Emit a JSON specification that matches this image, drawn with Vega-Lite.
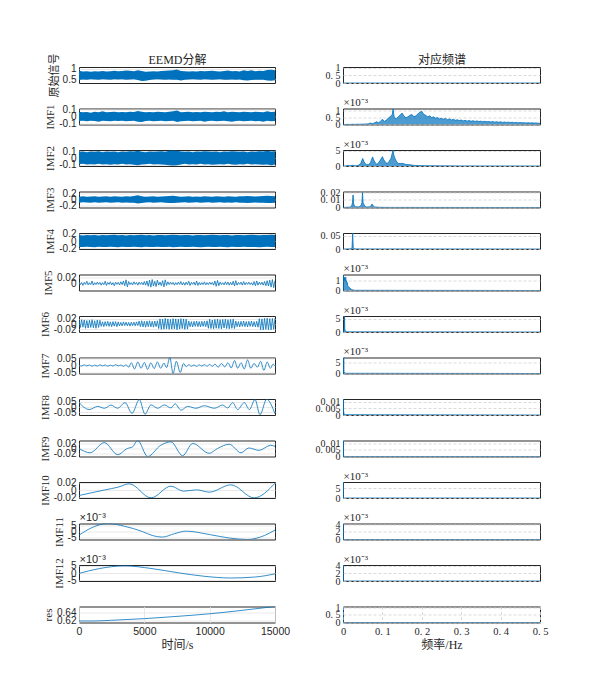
{
"$schema": "https://vega.github.io/schema/vega-lite/v6.json",
"background": "white",
"padding": {"left": 38, "top": 52, "right": 5, "bottom": 5},
"columns": 2,
"spacing": {"row": 25.5, "column": 67},
"bounds": "flush",
"align": "all",
"config": {
  "view": {"stroke": "#262626", "strokeWidth": 1},
  "font": "Liberation Sans",
  "axis": {"domain": false, "ticks": false, "labelColor": "#262626", "titleColor": "#262626", "titleFontWeight": "normal", "labelPadding": 3, "labelOverlap": false, "labelBound": false, "labelFlush": false, "gridWidth": 0.8},
  "axisY": {"labelFont": "Liberation Sans", "labelFontSize": 10, "labelExpr": "'' + datum.value", "titleFont": "Liberation Serif, Noto Sans CJK SC", "titleFontSize": 11, "titlePadding": 3, "grid": true, "gridColor": "#e3e3e3"},
  "axisX": {"labelFontSize": 10.5, "titleFontSize": 12, "titleFont": "Liberation Serif, Noto Sans CJK SC", "titlePadding": 2, "grid": true, "gridColor": "#e3e3e3", "labelPadding": 4}
},
"datasets": {
  "sig": [{"t":0,"hi":0.9,"lo":0.46},{"t":300,"hi":0.87,"lo":0.49},{"t":600,"hi":0.88,"lo":0.48},{"t":900,"hi":0.86,"lo":0.5},{"t":1200,"hi":0.88,"lo":0.49},{"t":1500,"hi":0.87,"lo":0.48},{"t":1800,"hi":0.89,"lo":0.5},{"t":2100,"hi":0.87,"lo":0.49},{"t":2400,"hi":0.88,"lo":0.48},{"t":2700,"hi":0.9,"lo":0.5},{"t":3000,"hi":0.88,"lo":0.49},{"t":3300,"hi":0.89,"lo":0.5},{"t":3600,"hi":0.91,"lo":0.48},{"t":3900,"hi":0.9,"lo":0.49},{"t":4200,"hi":0.88,"lo":0.5},{"t":4500,"hi":0.93,"lo":0.46},{"t":4800,"hi":0.89,"lo":0.42},{"t":5100,"hi":0.86,"lo":0.43},{"t":5400,"hi":0.87,"lo":0.46},{"t":5700,"hi":0.88,"lo":0.49},{"t":6000,"hi":0.87,"lo":0.5},{"t":6300,"hi":0.89,"lo":0.49},{"t":6600,"hi":0.9,"lo":0.48},{"t":6900,"hi":0.91,"lo":0.49},{"t":7200,"hi":0.92,"lo":0.47},{"t":7500,"hi":0.96,"lo":0.48},{"t":7800,"hi":0.89,"lo":0.44},{"t":8100,"hi":0.88,"lo":0.48},{"t":8400,"hi":0.87,"lo":0.49},{"t":8700,"hi":0.88,"lo":0.5},{"t":9000,"hi":0.87,"lo":0.49},{"t":9300,"hi":0.89,"lo":0.48},{"t":9600,"hi":0.88,"lo":0.5},{"t":9900,"hi":0.89,"lo":0.49},{"t":10200,"hi":0.9,"lo":0.48},{"t":10500,"hi":0.88,"lo":0.49},{"t":10800,"hi":0.87,"lo":0.5},{"t":11100,"hi":0.89,"lo":0.48},{"t":11400,"hi":0.91,"lo":0.47},{"t":11700,"hi":0.88,"lo":0.49},{"t":12000,"hi":0.89,"lo":0.48},{"t":12300,"hi":0.87,"lo":0.49},{"t":12600,"hi":0.92,"lo":0.45},{"t":12900,"hi":0.89,"lo":0.44},{"t":13200,"hi":0.93,"lo":0.46},{"t":13500,"hi":0.88,"lo":0.48},{"t":13800,"hi":0.9,"lo":0.47},{"t":14100,"hi":0.89,"lo":0.48},{"t":14400,"hi":0.94,"lo":0.44},{"t":14700,"hi":0.95,"lo":0.43},{"t":15000,"hi":0.93,"lo":0.45}],
  "imf1": [{"t":0,"hi":0.07,"lo":-0.065},{"t":300,"hi":0.06,"lo":-0.06},{"t":600,"hi":0.065,"lo":-0.07},{"t":900,"hi":0.055,"lo":-0.06},{"t":1200,"hi":0.07,"lo":-0.065},{"t":1500,"hi":0.06,"lo":-0.075},{"t":1800,"hi":0.075,"lo":-0.06},{"t":2100,"hi":0.06,"lo":-0.065},{"t":2400,"hi":0.065,"lo":-0.07},{"t":2700,"hi":0.07,"lo":-0.06},{"t":3000,"hi":0.06,"lo":-0.065},{"t":3300,"hi":0.065,"lo":-0.06},{"t":3600,"hi":0.06,"lo":-0.07},{"t":3900,"hi":0.07,"lo":-0.065},{"t":4200,"hi":0.065,"lo":-0.06},{"t":4500,"hi":0.08,"lo":-0.075},{"t":4800,"hi":0.07,"lo":-0.08},{"t":5100,"hi":0.06,"lo":-0.065},{"t":5400,"hi":0.065,"lo":-0.06},{"t":5700,"hi":0.06,"lo":-0.07},{"t":6000,"hi":0.07,"lo":-0.065},{"t":6300,"hi":0.065,"lo":-0.06},{"t":6600,"hi":0.06,"lo":-0.07},{"t":6900,"hi":0.07,"lo":-0.065},{"t":7200,"hi":0.075,"lo":-0.06},{"t":7500,"hi":0.085,"lo":-0.08},{"t":7800,"hi":0.06,"lo":-0.07},{"t":8100,"hi":0.065,"lo":-0.065},{"t":8400,"hi":0.07,"lo":-0.06},{"t":8700,"hi":0.06,"lo":-0.07},{"t":9000,"hi":0.065,"lo":-0.065},{"t":9300,"hi":0.06,"lo":-0.06},{"t":9600,"hi":0.07,"lo":-0.075},{"t":9900,"hi":0.065,"lo":-0.065},{"t":10200,"hi":0.06,"lo":-0.06},{"t":10500,"hi":0.07,"lo":-0.07},{"t":10800,"hi":0.065,"lo":-0.065},{"t":11100,"hi":0.075,"lo":-0.06},{"t":11400,"hi":0.06,"lo":-0.07},{"t":11700,"hi":0.07,"lo":-0.075},{"t":12000,"hi":0.065,"lo":-0.065},{"t":12300,"hi":0.06,"lo":-0.06},{"t":12600,"hi":0.07,"lo":-0.07},{"t":12900,"hi":0.065,"lo":-0.065},{"t":13200,"hi":0.06,"lo":-0.06},{"t":13500,"hi":0.07,"lo":-0.07},{"t":13800,"hi":0.065,"lo":-0.065},{"t":14100,"hi":0.06,"lo":-0.075},{"t":14400,"hi":0.075,"lo":-0.06},{"t":14700,"hi":0.065,"lo":-0.07},{"t":15000,"hi":0.07,"lo":-0.065}],
  "imf2": [{"t":0,"hi":0.095,"lo":-0.095},{"t":300,"hi":0.1,"lo":-0.09},{"t":600,"hi":0.09,"lo":-0.1},{"t":900,"hi":0.1,"lo":-0.095},{"t":1200,"hi":0.095,"lo":-0.1},{"t":1500,"hi":0.105,"lo":-0.09},{"t":1800,"hi":0.09,"lo":-0.1},{"t":2100,"hi":0.1,"lo":-0.095},{"t":2400,"hi":0.095,"lo":-0.105},{"t":2700,"hi":0.1,"lo":-0.095},{"t":3000,"hi":0.09,"lo":-0.1},{"t":3300,"hi":0.1,"lo":-0.09},{"t":3600,"hi":0.095,"lo":-0.1},{"t":3900,"hi":0.105,"lo":-0.095},{"t":4200,"hi":0.1,"lo":-0.105},{"t":4500,"hi":0.11,"lo":-0.11},{"t":4800,"hi":0.095,"lo":-0.1},{"t":5100,"hi":0.09,"lo":-0.095},{"t":5400,"hi":0.1,"lo":-0.09},{"t":5700,"hi":0.095,"lo":-0.1},{"t":6000,"hi":0.1,"lo":-0.095},{"t":6300,"hi":0.105,"lo":-0.1},{"t":6600,"hi":0.095,"lo":-0.105},{"t":6900,"hi":0.11,"lo":-0.11},{"t":7200,"hi":0.115,"lo":-0.115},{"t":7500,"hi":0.11,"lo":-0.11},{"t":7800,"hi":0.1,"lo":-0.1},{"t":8100,"hi":0.095,"lo":-0.09},{"t":8400,"hi":0.1,"lo":-0.1},{"t":8700,"hi":0.09,"lo":-0.095},{"t":9000,"hi":0.1,"lo":-0.1},{"t":9300,"hi":0.095,"lo":-0.09},{"t":9600,"hi":0.105,"lo":-0.1},{"t":9900,"hi":0.1,"lo":-0.095},{"t":10200,"hi":0.095,"lo":-0.105},{"t":10500,"hi":0.1,"lo":-0.1},{"t":10800,"hi":0.09,"lo":-0.095},{"t":11100,"hi":0.1,"lo":-0.1},{"t":11400,"hi":0.095,"lo":-0.09},{"t":11700,"hi":0.105,"lo":-0.1},{"t":12000,"hi":0.1,"lo":-0.105},{"t":12300,"hi":0.095,"lo":-0.095},{"t":12600,"hi":0.1,"lo":-0.1},{"t":12900,"hi":0.09,"lo":-0.09},{"t":13200,"hi":0.1,"lo":-0.1},{"t":13500,"hi":0.095,"lo":-0.095},{"t":13800,"hi":0.105,"lo":-0.1},{"t":14100,"hi":0.1,"lo":-0.105},{"t":14400,"hi":0.11,"lo":-0.1},{"t":14700,"hi":0.1,"lo":-0.11},{"t":15000,"hi":0.105,"lo":-0.1}],
  "imf3": [{"t":0,"hi":0.1,"lo":-0.11},{"t":300,"hi":0.11,"lo":-0.1},{"t":600,"hi":0.1,"lo":-0.105},{"t":900,"hi":0.105,"lo":-0.11},{"t":1200,"hi":0.11,"lo":-0.1},{"t":1500,"hi":0.1,"lo":-0.11},{"t":1800,"hi":0.105,"lo":-0.105},{"t":2100,"hi":0.115,"lo":-0.1},{"t":2400,"hi":0.1,"lo":-0.11},{"t":2700,"hi":0.11,"lo":-0.105},{"t":3000,"hi":0.105,"lo":-0.1},{"t":3300,"hi":0.1,"lo":-0.11},{"t":3600,"hi":0.11,"lo":-0.105},{"t":3900,"hi":0.105,"lo":-0.115},{"t":4200,"hi":0.12,"lo":-0.11},{"t":4500,"hi":0.15,"lo":-0.14},{"t":4800,"hi":0.11,"lo":-0.12},{"t":5100,"hi":0.1,"lo":-0.105},{"t":5400,"hi":0.105,"lo":-0.1},{"t":5700,"hi":0.11,"lo":-0.11},{"t":6000,"hi":0.1,"lo":-0.105},{"t":6300,"hi":0.105,"lo":-0.1},{"t":6600,"hi":0.11,"lo":-0.11},{"t":6900,"hi":0.12,"lo":-0.12},{"t":7200,"hi":0.13,"lo":-0.125},{"t":7500,"hi":0.11,"lo":-0.11},{"t":7800,"hi":0.1,"lo":-0.105},{"t":8100,"hi":0.105,"lo":-0.1},{"t":8400,"hi":0.11,"lo":-0.11},{"t":8700,"hi":0.1,"lo":-0.105},{"t":9000,"hi":0.105,"lo":-0.1},{"t":9300,"hi":0.1,"lo":-0.11},{"t":9600,"hi":0.11,"lo":-0.105},{"t":9900,"hi":0.105,"lo":-0.1},{"t":10200,"hi":0.1,"lo":-0.11},{"t":10500,"hi":0.11,"lo":-0.105},{"t":10800,"hi":0.105,"lo":-0.1},{"t":11100,"hi":0.1,"lo":-0.11},{"t":11400,"hi":0.11,"lo":-0.105},{"t":11700,"hi":0.105,"lo":-0.11},{"t":12000,"hi":0.1,"lo":-0.1},{"t":12300,"hi":0.11,"lo":-0.11},{"t":12600,"hi":0.115,"lo":-0.115},{"t":12900,"hi":0.12,"lo":-0.12},{"t":13200,"hi":0.11,"lo":-0.11},{"t":13500,"hi":0.105,"lo":-0.105},{"t":13800,"hi":0.11,"lo":-0.11},{"t":14100,"hi":0.12,"lo":-0.115},{"t":14400,"hi":0.13,"lo":-0.12},{"t":14700,"hi":0.12,"lo":-0.125},{"t":15000,"hi":0.115,"lo":-0.11}],
  "imf4": [{"t":0,"hi":0.16,"lo":-0.16},{"t":300,"hi":0.15,"lo":-0.165},{"t":600,"hi":0.165,"lo":-0.155},{"t":900,"hi":0.155,"lo":-0.16},{"t":1200,"hi":0.16,"lo":-0.17},{"t":1500,"hi":0.15,"lo":-0.155},{"t":1800,"hi":0.165,"lo":-0.16},{"t":2100,"hi":0.155,"lo":-0.165},{"t":2400,"hi":0.16,"lo":-0.155},{"t":2700,"hi":0.17,"lo":-0.16},{"t":3000,"hi":0.155,"lo":-0.17},{"t":3300,"hi":0.16,"lo":-0.155},{"t":3600,"hi":0.15,"lo":-0.16},{"t":3900,"hi":0.165,"lo":-0.165},{"t":4200,"hi":0.155,"lo":-0.155},{"t":4500,"hi":0.16,"lo":-0.16},{"t":4800,"hi":0.17,"lo":-0.17},{"t":5100,"hi":0.155,"lo":-0.155},{"t":5400,"hi":0.16,"lo":-0.165},{"t":5700,"hi":0.15,"lo":-0.16},{"t":6000,"hi":0.165,"lo":-0.155},{"t":6300,"hi":0.16,"lo":-0.165},{"t":6600,"hi":0.155,"lo":-0.16},{"t":6900,"hi":0.16,"lo":-0.155},{"t":7200,"hi":0.17,"lo":-0.17},{"t":7500,"hi":0.16,"lo":-0.165},{"t":7800,"hi":0.155,"lo":-0.155},{"t":8100,"hi":0.165,"lo":-0.16},{"t":8400,"hi":0.16,"lo":-0.165},{"t":8700,"hi":0.15,"lo":-0.155},{"t":9000,"hi":0.16,"lo":-0.16},{"t":9300,"hi":0.165,"lo":-0.17},{"t":9600,"hi":0.155,"lo":-0.16},{"t":9900,"hi":0.16,"lo":-0.155},{"t":10200,"hi":0.17,"lo":-0.165},{"t":10500,"hi":0.16,"lo":-0.16},{"t":10800,"hi":0.155,"lo":-0.155},{"t":11100,"hi":0.165,"lo":-0.16},{"t":11400,"hi":0.16,"lo":-0.17},{"t":11700,"hi":0.15,"lo":-0.155},{"t":12000,"hi":0.16,"lo":-0.165},{"t":12300,"hi":0.165,"lo":-0.16},{"t":12600,"hi":0.155,"lo":-0.155},{"t":12900,"hi":0.16,"lo":-0.16},{"t":13200,"hi":0.17,"lo":-0.165},{"t":13500,"hi":0.16,"lo":-0.16},{"t":13800,"hi":0.155,"lo":-0.17},{"t":14100,"hi":0.165,"lo":-0.16},{"t":14400,"hi":0.16,"lo":-0.155},{"t":14700,"hi":0.17,"lo":-0.165},{"t":15000,"hi":0.16,"lo":-0.16}],
  "imf5": [{"t":0,"v":0.006},{"t":100,"v":-0.004},{"t":200,"v":0.003},{"t":300,"v":-0.007},{"t":400,"v":0.004},{"t":500,"v":-0.003},{"t":600,"v":0.008},{"t":700,"v":-0.005},{"t":800,"v":0.003},{"t":900,"v":-0.004},{"t":1000,"v":0.009},{"t":1100,"v":-0.006},{"t":1200,"v":0.003},{"t":1300,"v":-0.004},{"t":1400,"v":0.005},{"t":1500,"v":-0.003},{"t":1600,"v":0.004},{"t":1700,"v":-0.006},{"t":1800,"v":0.003},{"t":1900,"v":-0.004},{"t":2000,"v":0.008},{"t":2100,"v":-0.007},{"t":2200,"v":0.004},{"t":2300,"v":-0.003},{"t":2400,"v":0.006},{"t":2500,"v":-0.005},{"t":2600,"v":0.003},{"t":2700,"v":-0.008},{"t":2800,"v":0.005},{"t":2900,"v":-0.003},{"t":3000,"v":0.004},{"t":3100,"v":-0.005},{"t":3200,"v":0.006},{"t":3300,"v":-0.004},{"t":3400,"v":0.009},{"t":3500,"v":-0.008},{"t":3600,"v":0.013},{"t":3700,"v":-0.012},{"t":3800,"v":0.007},{"t":3900,"v":-0.004},{"t":4000,"v":0.003},{"t":4100,"v":-0.005},{"t":4200,"v":0.006},{"t":4300,"v":-0.003},{"t":4400,"v":0.004},{"t":4500,"v":-0.006},{"t":4600,"v":0.005},{"t":4700,"v":-0.003},{"t":4800,"v":0.004},{"t":4900,"v":-0.005},{"t":5000,"v":0.007},{"t":5100,"v":-0.006},{"t":5200,"v":0.009},{"t":5300,"v":-0.01},{"t":5400,"v":0.012},{"t":5500,"v":-0.013},{"t":5600,"v":0.014},{"t":5700,"v":-0.009},{"t":5800,"v":0.008},{"t":5900,"v":-0.011},{"t":6000,"v":0.012},{"t":6100,"v":-0.006},{"t":6200,"v":0.005},{"t":6300,"v":-0.008},{"t":6400,"v":0.01},{"t":6500,"v":-0.012},{"t":6600,"v":0.013},{"t":6700,"v":-0.007},{"t":6800,"v":0.006},{"t":6900,"v":-0.004},{"t":7000,"v":0.005},{"t":7100,"v":-0.003},{"t":7200,"v":0.004},{"t":7300,"v":-0.006},{"t":7400,"v":0.003},{"t":7500,"v":-0.004},{"t":7600,"v":0.005},{"t":7700,"v":-0.003},{"t":7800,"v":0.007},{"t":7900,"v":-0.005},{"t":8000,"v":0.004},{"t":8100,"v":-0.006},{"t":8200,"v":0.005},{"t":8300,"v":-0.004},{"t":8400,"v":0.008},{"t":8500,"v":-0.007},{"t":8600,"v":0.004},{"t":8700,"v":-0.003},{"t":8800,"v":0.005},{"t":8900,"v":-0.006},{"t":9000,"v":0.009},{"t":9100,"v":-0.007},{"t":9200,"v":0.004},{"t":9300,"v":-0.005},{"t":9400,"v":0.003},{"t":9500,"v":-0.004},{"t":9600,"v":0.006},{"t":9700,"v":-0.005},{"t":9800,"v":0.003},{"t":9900,"v":-0.004},{"t":10000,"v":0.005},{"t":10100,"v":-0.003},{"t":10200,"v":0.004},{"t":10300,"v":-0.006},{"t":10400,"v":0.009},{"t":10500,"v":-0.01},{"t":10600,"v":0.011},{"t":10700,"v":-0.008},{"t":10800,"v":0.005},{"t":10900,"v":-0.004},{"t":11000,"v":0.003},{"t":11100,"v":-0.005},{"t":11200,"v":0.006},{"t":11300,"v":-0.004},{"t":11400,"v":0.005},{"t":11500,"v":-0.006},{"t":11600,"v":0.004},{"t":11700,"v":-0.005},{"t":11800,"v":0.008},{"t":11900,"v":-0.009},{"t":12000,"v":0.01},{"t":12100,"v":-0.006},{"t":12200,"v":0.004},{"t":12300,"v":-0.003},{"t":12400,"v":0.005},{"t":12500,"v":-0.006},{"t":12600,"v":0.007},{"t":12700,"v":-0.005},{"t":12800,"v":0.004},{"t":12900,"v":-0.003},{"t":13000,"v":0.005},{"t":13100,"v":-0.004},{"t":13200,"v":0.003},{"t":13300,"v":-0.006},{"t":13400,"v":0.007},{"t":13500,"v":-0.008},{"t":13600,"v":0.009},{"t":13700,"v":-0.006},{"t":13800,"v":0.005},{"t":13900,"v":-0.004},{"t":14000,"v":0.005},{"t":14100,"v":-0.006},{"t":14200,"v":0.007},{"t":14300,"v":-0.008},{"t":14400,"v":0.01},{"t":14500,"v":-0.009},{"t":14600,"v":0.012},{"t":14700,"v":-0.013},{"t":14800,"v":0.014},{"t":14900,"v":-0.015},{"t":15000,"v":0.01}],
  "imf6": [{"t":0,"v":0.014},{"t":100,"v":-0.013},{"t":200,"v":0.016},{"t":300,"v":-0.012},{"t":400,"v":0.015},{"t":500,"v":-0.016},{"t":600,"v":0.013},{"t":700,"v":-0.015},{"t":800,"v":0.014},{"t":900,"v":-0.013},{"t":1000,"v":0.016},{"t":1100,"v":-0.014},{"t":1200,"v":0.012},{"t":1300,"v":-0.016},{"t":1400,"v":0.015},{"t":1500,"v":-0.013},{"t":1600,"v":0.014},{"t":1700,"v":-0.009},{"t":1800,"v":0.008},{"t":1900,"v":-0.01},{"t":2000,"v":0.009},{"t":2100,"v":-0.008},{"t":2200,"v":0.01},{"t":2300,"v":-0.009},{"t":2400,"v":0.008},{"t":2500,"v":-0.01},{"t":2600,"v":0.009},{"t":2700,"v":-0.008},{"t":2800,"v":0.009},{"t":2900,"v":-0.01},{"t":3000,"v":0.008},{"t":3100,"v":-0.007},{"t":3200,"v":0.006},{"t":3300,"v":-0.007},{"t":3400,"v":0.008},{"t":3500,"v":-0.006},{"t":3600,"v":0.007},{"t":3700,"v":-0.007},{"t":3800,"v":0.006},{"t":3900,"v":-0.008},{"t":4000,"v":0.007},{"t":4100,"v":-0.006},{"t":4200,"v":0.007},{"t":4300,"v":-0.007},{"t":4400,"v":0.008},{"t":4500,"v":-0.006},{"t":4600,"v":0.011},{"t":4700,"v":-0.01},{"t":4800,"v":0.012},{"t":4900,"v":-0.011},{"t":5000,"v":0.01},{"t":5100,"v":-0.012},{"t":5200,"v":0.011},{"t":5300,"v":-0.01},{"t":5400,"v":0.012},{"t":5500,"v":-0.011},{"t":5600,"v":0.01},{"t":5700,"v":-0.012},{"t":5800,"v":0.011},{"t":5900,"v":-0.01},{"t":6000,"v":0.012},{"t":6100,"v":-0.017},{"t":6200,"v":0.019},{"t":6300,"v":-0.02},{"t":6400,"v":0.018},{"t":6500,"v":-0.019},{"t":6600,"v":0.021},{"t":6700,"v":-0.018},{"t":6800,"v":0.019},{"t":6900,"v":-0.02},{"t":7000,"v":0.017},{"t":7100,"v":-0.019},{"t":7200,"v":0.02},{"t":7300,"v":-0.018},{"t":7400,"v":0.019},{"t":7500,"v":-0.021},{"t":7600,"v":0.018},{"t":7700,"v":-0.019},{"t":7800,"v":0.02},{"t":7900,"v":-0.017},{"t":8000,"v":0.019},{"t":8100,"v":-0.02},{"t":8200,"v":0.018},{"t":8300,"v":-0.019},{"t":8400,"v":0.011},{"t":8500,"v":-0.01},{"t":8600,"v":0.009},{"t":8700,"v":-0.011},{"t":8800,"v":0.01},{"t":8900,"v":-0.009},{"t":9000,"v":0.011},{"t":9100,"v":-0.01},{"t":9200,"v":0.009},{"t":9300,"v":-0.011},{"t":9400,"v":0.01},{"t":9500,"v":-0.009},{"t":9600,"v":0.011},{"t":9700,"v":-0.01},{"t":9800,"v":0.012},{"t":9900,"v":-0.016},{"t":10000,"v":0.018},{"t":10100,"v":-0.017},{"t":10200,"v":0.015},{"t":10300,"v":-0.018},{"t":10400,"v":0.017},{"t":10500,"v":-0.016},{"t":10600,"v":0.018},{"t":10700,"v":-0.017},{"t":10800,"v":0.016},{"t":10900,"v":-0.018},{"t":11000,"v":0.017},{"t":11100,"v":-0.015},{"t":11200,"v":0.018},{"t":11300,"v":-0.017},{"t":11400,"v":0.016},{"t":11500,"v":-0.018},{"t":11600,"v":0.017},{"t":11700,"v":-0.016},{"t":11800,"v":0.018},{"t":11900,"v":-0.017},{"t":12000,"v":0.011},{"t":12100,"v":-0.01},{"t":12200,"v":0.009},{"t":12300,"v":-0.011},{"t":12400,"v":0.01},{"t":12500,"v":-0.009},{"t":12600,"v":0.011},{"t":12700,"v":-0.01},{"t":12800,"v":0.009},{"t":12900,"v":-0.011},{"t":13000,"v":0.01},{"t":13100,"v":-0.009},{"t":13200,"v":0.011},{"t":13300,"v":-0.01},{"t":13400,"v":0.009},{"t":13500,"v":-0.011},{"t":13600,"v":0.01},{"t":13700,"v":-0.012},{"t":13800,"v":0.02},{"t":13900,"v":-0.021},{"t":14000,"v":0.019},{"t":14100,"v":-0.022},{"t":14200,"v":0.021},{"t":14300,"v":-0.02},{"t":14400,"v":0.022},{"t":14500,"v":-0.021},{"t":14600,"v":0.02},{"t":14700,"v":-0.022},{"t":14800,"v":0.021},{"t":14900,"v":-0.02},{"t":15000,"v":0.022}],
  "imf7": [{"t":0,"v":0.002},{"t":200,"v":-0.004},{"t":400,"v":0.005},{"t":600,"v":-0.003},{"t":800,"v":0.004},{"t":1000,"v":-0.005},{"t":1200,"v":0.003},{"t":1400,"v":-0.004},{"t":1600,"v":0.005},{"t":1800,"v":-0.003},{"t":2000,"v":0.004},{"t":2200,"v":-0.005},{"t":2400,"v":0.003},{"t":2600,"v":-0.004},{"t":2800,"v":0.006},{"t":3000,"v":-0.003},{"t":3200,"v":0.004},{"t":3400,"v":-0.006},{"t":3600,"v":0.005},{"t":3800,"v":-0.012},{"t":4000,"v":0.02},{"t":4250,"v":-0.025},{"t":4500,"v":0.025},{"t":4750,"v":-0.02},{"t":5000,"v":0.022},{"t":5250,"v":-0.028},{"t":5500,"v":0.02},{"t":5750,"v":-0.022},{"t":6000,"v":0.025},{"t":6250,"v":-0.02},{"t":6500,"v":0.018},{"t":6700,"v":-0.015},{"t":6950,"v":0.057},{"t":7200,"v":-0.057},{"t":7450,"v":0.03},{"t":7750,"v":-0.05},{"t":8000,"v":0.015},{"t":8200,"v":-0.008},{"t":8400,"v":0.006},{"t":8600,"v":-0.005},{"t":8800,"v":0.004},{"t":9000,"v":-0.006},{"t":9200,"v":0.005},{"t":9400,"v":-0.004},{"t":9600,"v":0.006},{"t":9800,"v":-0.005},{"t":10000,"v":0.008},{"t":10200,"v":-0.006},{"t":10400,"v":0.01},{"t":10650,"v":-0.012},{"t":10900,"v":0.015},{"t":11150,"v":-0.01},{"t":11400,"v":0.02},{"t":11650,"v":-0.018},{"t":11900,"v":0.035},{"t":12150,"v":-0.02},{"t":12400,"v":0.02},{"t":12650,"v":-0.025},{"t":12900,"v":0.04},{"t":13150,"v":-0.02},{"t":13400,"v":0.015},{"t":13650,"v":-0.012},{"t":13900,"v":0.03},{"t":14150,"v":-0.035},{"t":14400,"v":0.025},{"t":14650,"v":-0.02},{"t":14850,"v":0.01},{"t":15000,"v":-0.005}],
  "imf8": [{"t":0,"v":0.041},{"t":790,"v":-0.024},{"t":1430,"v":0.006},{"t":1940,"v":-0.012},{"t":2450,"v":0.018},{"t":2960,"v":-0.012},{"t":3520,"v":0.041},{"t":4060,"v":-0.059},{"t":4620,"v":0.07},{"t":5050,"v":-0.068},{"t":5510,"v":0.02},{"t":6020,"v":-0.012},{"t":6530,"v":0.02},{"t":7040,"v":-0.009},{"t":7350,"v":0.03},{"t":7810,"v":-0.03},{"t":8320,"v":0.006},{"t":8950,"v":-0.012},{"t":9590,"v":0.012},{"t":10360,"v":-0.012},{"t":10990,"v":0.018},{"t":11380,"v":-0.009},{"t":11760,"v":0.041},{"t":12140,"v":-0.024},{"t":12650,"v":0.041},{"t":13040,"v":-0.024},{"t":13470,"v":0.07},{"t":13850,"v":-0.072},{"t":14360,"v":0.072},{"t":15000,"v":-0.065}],
  "imf9": [{"t":0,"v":0.0},{"t":850,"v":-0.016},{"t":1940,"v":0.022},{"t":2960,"v":-0.023},{"t":3700,"v":0.0},{"t":4100,"v":0.006},{"t":4490,"v":0.03},{"t":5255,"v":-0.03},{"t":6250,"v":0.012},{"t":7040,"v":0.025},{"t":7930,"v":-0.027},{"t":8700,"v":0.019},{"t":9970,"v":-0.018},{"t":10600,"v":0.0},{"t":11500,"v":0.016},{"t":12400,"v":-0.016},{"t":13000,"v":0.002},{"t":13780,"v":-0.007},{"t":14670,"v":0.012},{"t":15000,"v":0.008}],
  "imf10": [{"t":0,"v":-0.0153},{"t":1940,"v":0.0},{"t":3000,"v":0.008},{"t":3850,"v":0.0172},{"t":5510,"v":-0.0219},{"t":7040,"v":0.0107},{"t":8000,"v":-0.0033},{"t":9000,"v":0.0005},{"t":9970,"v":-0.006},{"t":11630,"v":0.0144},{"t":13400,"v":-0.0219},{"t":15000,"v":0.019}],
  "imf11": [{"t":0,"v":-3},{"t":1000,"v":3.2},{"t":2200,"v":6.5},{"t":3500,"v":4.2},{"t":4850,"v":0},{"t":5600,"v":-3.2},{"t":6400,"v":-4.5},{"t":7300,"v":-1.8},{"t":8200,"v":0.3},{"t":10000,"v":-2.5},{"t":11500,"v":-5.3},{"t":12900,"v":-6.5},{"t":14200,"v":-3.2},{"t":15000,"v":1.2}],
  "imf12": [{"t":0,"v":-0.3},{"t":1500,"v":3},{"t":3500,"v":5},{"t":5500,"v":3.2},{"t":7700,"v":0},{"t":9500,"v":-2.2},{"t":11600,"v":-3.5},{"t":13500,"v":-2.8},{"t":15000,"v":-0.6}],
  "res": [{"t":0,"v":0.62},{"t":1000,"v":0.6198},{"t":2500,"v":0.6215},{"t":5000,"v":0.6253},{"t":7500,"v":0.6305},{"t":10000,"v":0.6365},{"t":12500,"v":0.6445},{"t":15000,"v":0.6533}],
  "s0": [{"f":0,"a":0},{"f":0.5,"a":0}],
  "s1": [{"f":0,"a":0},{"f":0.005,"a":0.005},{"f":0.01,"a":0.01},{"f":0.015,"a":0.005},{"f":0.02,"a":0.01},{"f":0.025,"a":0.015},{"f":0.03,"a":0.01},{"f":0.035,"a":0.02},{"f":0.04,"a":0.015},{"f":0.045,"a":0.025},{"f":0.05,"a":0.02},{"f":0.055,"a":0.04},{"f":0.06,"a":0.03},{"f":0.065,"a":0.06},{"f":0.07,"a":0.1},{"f":0.075,"a":0.06},{"f":0.08,"a":0.12},{"f":0.085,"a":0.2},{"f":0.09,"a":0.12},{"f":0.095,"a":0.22},{"f":0.1,"a":0.38},{"f":0.105,"a":0.22},{"f":0.11,"a":0.32},{"f":0.115,"a":0.45},{"f":0.12,"a":0.58},{"f":0.125,"a":0.7},{"f":0.127,"a":1.12},{"f":0.13,"a":0.5},{"f":0.135,"a":0.42},{"f":0.14,"a":0.55},{"f":0.145,"a":0.68},{"f":0.15,"a":0.82},{"f":0.155,"a":0.6},{"f":0.16,"a":0.48},{"f":0.165,"a":0.56},{"f":0.17,"a":0.66},{"f":0.175,"a":0.72},{"f":0.18,"a":0.55},{"f":0.185,"a":0.62},{"f":0.19,"a":0.76},{"f":0.195,"a":0.88},{"f":0.2,"a":0.95},{"f":0.205,"a":0.72},{"f":0.21,"a":0.66},{"f":0.215,"a":0.55},{"f":0.22,"a":0.62},{"f":0.225,"a":0.5},{"f":0.23,"a":0.55},{"f":0.235,"a":0.45},{"f":0.24,"a":0.5},{"f":0.245,"a":0.4},{"f":0.25,"a":0.45},{"f":0.255,"a":0.38},{"f":0.26,"a":0.44},{"f":0.265,"a":0.35},{"f":0.27,"a":0.4},{"f":0.275,"a":0.33},{"f":0.28,"a":0.37},{"f":0.285,"a":0.3},{"f":0.29,"a":0.34},{"f":0.295,"a":0.28},{"f":0.3,"a":0.32},{"f":0.305,"a":0.26},{"f":0.31,"a":0.3},{"f":0.315,"a":0.24},{"f":0.32,"a":0.29},{"f":0.325,"a":0.23},{"f":0.33,"a":0.27},{"f":0.335,"a":0.22},{"f":0.34,"a":0.26},{"f":0.345,"a":0.21},{"f":0.35,"a":0.24},{"f":0.355,"a":0.2},{"f":0.36,"a":0.23},{"f":0.365,"a":0.19},{"f":0.37,"a":0.22},{"f":0.375,"a":0.18},{"f":0.38,"a":0.21},{"f":0.385,"a":0.17},{"f":0.39,"a":0.2},{"f":0.395,"a":0.16},{"f":0.4,"a":0.19},{"f":0.405,"a":0.15},{"f":0.41,"a":0.18},{"f":0.415,"a":0.15},{"f":0.42,"a":0.17},{"f":0.425,"a":0.14},{"f":0.43,"a":0.16},{"f":0.435,"a":0.13},{"f":0.44,"a":0.15},{"f":0.445,"a":0.12},{"f":0.45,"a":0.14},{"f":0.455,"a":0.12},{"f":0.46,"a":0.13},{"f":0.465,"a":0.11},{"f":0.47,"a":0.13},{"f":0.475,"a":0.1},{"f":0.48,"a":0.12},{"f":0.485,"a":0.1},{"f":0.49,"a":0.11},{"f":0.495,"a":0.09},{"f":0.5,"a":0.09}],
  "s2": [{"f":0,"a":0},{"f":0.005,"a":0.02},{"f":0.01,"a":0.05},{"f":0.0125,"a":0.3},{"f":0.015,"a":0.05},{"f":0.02,"a":0.1},{"f":0.025,"a":0.25},{"f":0.03,"a":0.1},{"f":0.035,"a":0.1},{"f":0.04,"a":0.3},{"f":0.045,"a":0.8},{"f":0.05,"a":2.5},{"f":0.053,"a":1.5},{"f":0.056,"a":0.8},{"f":0.06,"a":0.4},{"f":0.065,"a":0.5},{"f":0.07,"a":1.2},{"f":0.075,"a":3.0},{"f":0.078,"a":2.0},{"f":0.082,"a":1.0},{"f":0.086,"a":0.6},{"f":0.09,"a":1.0},{"f":0.095,"a":2.0},{"f":0.1,"a":3.1},{"f":0.103,"a":2.2},{"f":0.107,"a":1.3},{"f":0.112,"a":0.8},{"f":0.117,"a":1.5},{"f":0.122,"a":2.6},{"f":0.127,"a":5.3},{"f":0.129,"a":3.6},{"f":0.132,"a":2.5},{"f":0.136,"a":1.4},{"f":0.14,"a":0.9},{"f":0.145,"a":0.8},{"f":0.15,"a":0.9},{"f":0.155,"a":0.7},{"f":0.16,"a":0.5},{"f":0.17,"a":0.4},{"f":0.18,"a":0.2},{"f":0.19,"a":0.15},{"f":0.2,"a":0.12},{"f":0.22,"a":0.08},{"f":0.25,"a":0.05},{"f":0.3,"a":0.03},{"f":0.35,"a":0.02},{"f":0.5,"a":0.01}],
  "s3": [{"f":0,"a":0},{"f":0.01,"a":0.0003},{"f":0.018,"a":0.0005},{"f":0.022,"a":0.002},{"f":0.024,"a":0.006},{"f":0.0255,"a":0.0165},{"f":0.027,"a":0.005},{"f":0.03,"a":0.001},{"f":0.04,"a":0.0008},{"f":0.045,"a":0.002},{"f":0.048,"a":0.006},{"f":0.0495,"a":0.0195},{"f":0.051,"a":0.006},{"f":0.055,"a":0.002},{"f":0.06,"a":0.0005},{"f":0.07,"a":0.001},{"f":0.0736,"a":0.0045},{"f":0.077,"a":0.002},{"f":0.08,"a":0.0008},{"f":0.09,"a":0.0003},{"f":0.12,"a":0.0001},{"f":0.5,"a":0}],
  "s4": [{"f":0,"a":0},{"f":0.015,"a":0.0003},{"f":0.02,"a":0.001},{"f":0.023,"a":0.004},{"f":0.0245,"a":0.06},{"f":0.026,"a":0.004},{"f":0.028,"a":0.001},{"f":0.035,"a":0.0003},{"f":0.5,"a":0}],
  "s5": [{"f":0,"a":0.3},{"f":0.001,"a":1.6},{"f":0.002,"a":1.1},{"f":0.003,"a":1.3},{"f":0.004,"a":1.0},{"f":0.005,"a":1.4},{"f":0.006,"a":1.2},{"f":0.007,"a":1.35},{"f":0.008,"a":0.9},{"f":0.009,"a":1.0},{"f":0.01,"a":0.7},{"f":0.011,"a":0.8},{"f":0.012,"a":0.5},{"f":0.014,"a":0.4},{"f":0.016,"a":0.3},{"f":0.018,"a":0.25},{"f":0.02,"a":0.15},{"f":0.022,"a":0.1},{"f":0.025,"a":0.05},{"f":0.03,"a":0.02},{"f":0.5,"a":0}],
  "s6": [{"f":0,"a":0},{"f":0.002,"a":0.3},{"f":0.003,"a":1.0},{"f":0.0038,"a":6.0},{"f":0.0045,"a":1.2},{"f":0.006,"a":0.3},{"f":0.01,"a":0.05},{"f":0.5,"a":0}],
  "s7": [{"f":0,"a":0},{"f":0.0012,"a":1},{"f":0.0018,"a":7.5},{"f":0.0025,"a":0.8},{"f":0.005,"a":0.1},{"f":0.5,"a":0}],
  "s8": [{"f":0,"a":0},{"f":0.0006,"a":0.004},{"f":0.001,"a":0.012},{"f":0.0015,"a":0.003},{"f":0.003,"a":0.0002},{"f":0.5,"a":0}],
  "s9": [{"f":0,"a":0},{"f":0.0007,"a":0.012},{"f":0.0012,"a":0.002},{"f":0.002,"a":0},{"f":0.5,"a":0}],
  "s10": [{"f":0,"a":0},{"f":0.0004,"a":8},{"f":0.0008,"a":1},{"f":0.0015,"a":0},{"f":0.5,"a":0}],
  "s11": [{"f":0,"a":0},{"f":0.0002,"a":4.2},{"f":0.0005,"a":0.5},{"f":0.001,"a":0},{"f":0.5,"a":0}],
  "s12": [{"f":0,"a":0},{"f":0.0002,"a":4.2},{"f":0.0005,"a":0.5},{"f":0.001,"a":0},{"f":0.5,"a":0}],
  "s13": [{"f":0,"a":1.0},{"f":0.0003,"a":0},{"f":0.5,"a":0}]
},
"concat": [
  {"width":196,"height":16,"data":{"name":"sig"},"mark":{"type":"area","color":"#0072BD","clip":true},"encoding":{"x":{"field":"t","type":"quantitative","scale":{"domain":[0,15000],"nice":false},"axis":{"orient":"top","labels":false,"grid":false,"title":"EEMD分解","titlePadding":1,"titleFontSize":12}},"y":{"field":"hi","type":"quantitative","scale":{"domain":[0.32,1.08],"nice":false,"zero":false},"axis":{"values":[0.5,1],"title":"原始信号"}},"y2":{"field":"lo"}}},
  {"width":197,"height":16,"data":{"name":"s0"},"mark":{"type":"area","color":"#0072BD","clip":true,"line":{"color":"#0072BD","strokeWidth":0.8}},"encoding":{"x":{"field":"f","type":"quantitative","scale":{"domain":[0,0.5],"nice":false},"axis":{"orient":"top","labels":false,"grid":false,"title":"对应频谱","titlePadding":1,"titleFontSize":12}},"y":{"field":"a","type":"quantitative","scale":{"domain":[0,1.05],"nice":false},"axis":{"values":[0,0.5,1],"title":null,"labelFont":"Liberation Serif","labelExpr":"replace('' + datum.value, '.', '. ')","gridDash":[3,2],"gridColor":"#d0d0d0"}}}},
  {"width":196,"height":16,"data":{"name":"imf1"},"mark":{"type":"area","color":"#0072BD","clip":true},"encoding":{"x":{"field":"t","type":"quantitative","scale":{"domain":[0,15000],"nice":false},"axis":null},"y":{"field":"hi","type":"quantitative","scale":{"domain":[-0.115,0.115],"nice":false,"zero":false},"axis":{"values":[-0.1,0,0.1],"title":"IMF1"}},"y2":{"field":"lo"}}},
  {"width":197,"height":16,"data":{"name":"s1"},"mark":{"type":"area","color":"#0072BD","clip":true,"line":{"color":"#0072BD","strokeWidth":0.8}},"encoding":{"x":{"field":"f","type":"quantitative","scale":{"domain":[0,0.5],"nice":false},"axis":{"orient":"top","labels":false,"grid":false,"title":"×10⁻³","titleAnchor":"start","titleAlign":"left","titleFont":"Liberation Serif","titleFontSize":11,"titlePadding":1}},"y":{"field":"a","type":"quantitative","scale":{"domain":[0,1.15],"nice":false},"axis":{"values":[0,0.5,1],"title":null,"labelFont":"Liberation Serif","labelExpr":"replace('' + datum.value, '.', '. ')","gridDash":[3,2],"gridColor":"#d0d0d0"}}}},
  {"width":196,"height":16,"data":{"name":"imf2"},"mark":{"type":"area","color":"#0072BD","clip":true},"encoding":{"x":{"field":"t","type":"quantitative","scale":{"domain":[0,15000],"nice":false},"axis":null},"y":{"field":"hi","type":"quantitative","scale":{"domain":[-0.123,0.123],"nice":false,"zero":false},"axis":{"values":[-0.1,0,0.1],"title":"IMF2"}},"y2":{"field":"lo"}}},
  {"width":197,"height":16,"data":{"name":"s2"},"mark":{"type":"area","color":"#0072BD","clip":true,"line":{"color":"#0072BD","strokeWidth":0.8}},"encoding":{"x":{"field":"f","type":"quantitative","scale":{"domain":[0,0.5],"nice":false},"axis":{"orient":"top","labels":false,"grid":false,"title":"×10⁻³","titleAnchor":"start","titleAlign":"left","titleFont":"Liberation Serif","titleFontSize":11,"titlePadding":1}},"y":{"field":"a","type":"quantitative","scale":{"domain":[0,5.3],"nice":false},"axis":{"values":[0,5],"title":null,"labelFont":"Liberation Serif","labelExpr":"replace('' + datum.value, '.', '. ')","gridDash":[3,2],"gridColor":"#d0d0d0"}}}},
  {"width":196,"height":16,"data":{"name":"imf3"},"mark":{"type":"area","color":"#0072BD","clip":true},"encoding":{"x":{"field":"t","type":"quantitative","scale":{"domain":[0,15000],"nice":false},"axis":null},"y":{"field":"hi","type":"quantitative","scale":{"domain":[-0.28,0.28],"nice":false,"zero":false},"axis":{"values":[-0.2,0,0.2],"title":"IMF3"}},"y2":{"field":"lo"}}},
  {"width":197,"height":16,"data":{"name":"s3"},"mark":{"type":"area","color":"#0072BD","clip":true,"line":{"color":"#0072BD","strokeWidth":0.8}},"encoding":{"x":{"field":"f","type":"quantitative","scale":{"domain":[0,0.5],"nice":false},"axis":null},"y":{"field":"a","type":"quantitative","scale":{"domain":[0,0.021],"nice":false},"axis":{"values":[0,0.01,0.02],"title":null,"labelFont":"Liberation Serif","labelExpr":"replace('' + datum.value, '.', '. ')","gridDash":[3,2],"gridColor":"#d0d0d0"}}}},
  {"width":196,"height":16,"data":{"name":"imf4"},"mark":{"type":"area","color":"#0072BD","clip":true},"encoding":{"x":{"field":"t","type":"quantitative","scale":{"domain":[0,15000],"nice":false},"axis":null},"y":{"field":"hi","type":"quantitative","scale":{"domain":[-0.216,0.216],"nice":false,"zero":false},"axis":{"values":[-0.2,0,0.2],"title":"IMF4"}},"y2":{"field":"lo"}}},
  {"width":197,"height":16,"data":{"name":"s4"},"mark":{"type":"area","color":"#0072BD","clip":true,"line":{"color":"#0072BD","strokeWidth":0.8}},"encoding":{"x":{"field":"f","type":"quantitative","scale":{"domain":[0,0.5],"nice":false},"axis":null},"y":{"field":"a","type":"quantitative","scale":{"domain":[0,0.06],"nice":false},"axis":{"values":[0,0.05],"title":null,"labelFont":"Liberation Serif","labelExpr":"replace('' + datum.value, '.', '. ')","gridDash":[3,2],"gridColor":"#d0d0d0"}}}},
  {"width":196,"height":16,"data":{"name":"imf5"},"mark":{"type":"line","color":"#0072BD","strokeWidth":0.8,"clip":true},"encoding":{"x":{"field":"t","type":"quantitative","scale":{"domain":[0,15000],"nice":false},"axis":null},"y":{"field":"v","type":"quantitative","scale":{"domain":[-0.025,0.032],"nice":false,"zero":false},"axis":{"values":[0,0.02],"title":"IMF5"}}}},
  {"width":197,"height":16,"data":{"name":"s5"},"mark":{"type":"area","color":"#0072BD","clip":true,"line":{"color":"#0072BD","strokeWidth":0.8}},"encoding":{"x":{"field":"f","type":"quantitative","scale":{"domain":[0,0.5],"nice":false},"axis":{"orient":"top","labels":false,"grid":false,"title":"×10⁻³","titleAnchor":"start","titleAlign":"left","titleFont":"Liberation Serif","titleFontSize":11,"titlePadding":1}},"y":{"field":"a","type":"quantitative","scale":{"domain":[0,1.65],"nice":false},"axis":{"values":[0,1],"title":null,"labelFont":"Liberation Serif","labelExpr":"replace('' + datum.value, '.', '. ')","gridDash":[3,2],"gridColor":"#d0d0d0"}}}},
  {"width":196,"height":16,"data":{"name":"imf6"},"mark":{"type":"line","color":"#0072BD","strokeWidth":0.8,"clip":true},"encoding":{"x":{"field":"t","type":"quantitative","scale":{"domain":[0,15000],"nice":false},"axis":null},"y":{"field":"v","type":"quantitative","scale":{"domain":[-0.03,0.03],"nice":false,"zero":false},"axis":{"values":[-0.02,0,0.02],"title":"IMF6"}}}},
  {"width":197,"height":16,"data":{"name":"s6"},"mark":{"type":"area","color":"#0072BD","clip":true,"line":{"color":"#0072BD","strokeWidth":0.8}},"encoding":{"x":{"field":"f","type":"quantitative","scale":{"domain":[0,0.5],"nice":false},"axis":{"orient":"top","labels":false,"grid":false,"title":"×10⁻³","titleAnchor":"start","titleAlign":"left","titleFont":"Liberation Serif","titleFontSize":11,"titlePadding":1}},"y":{"field":"a","type":"quantitative","scale":{"domain":[0,6],"nice":false},"axis":{"values":[0,5],"title":null,"labelFont":"Liberation Serif","labelExpr":"replace('' + datum.value, '.', '. ')","gridDash":[3,2],"gridColor":"#d0d0d0"}}}},
  {"width":196,"height":16,"data":{"name":"imf7"},"mark":{"type":"line","color":"#0072BD","strokeWidth":0.8,"clip":true,"interpolate":"monotone"},"encoding":{"x":{"field":"t","type":"quantitative","scale":{"domain":[0,15000],"nice":false},"axis":null},"y":{"field":"v","type":"quantitative","scale":{"domain":[-0.057,0.057],"nice":false,"zero":false},"axis":{"values":[-0.05,0,0.05],"title":"IMF7"}}}},
  {"width":197,"height":16,"data":{"name":"s7"},"mark":{"type":"area","color":"#0072BD","clip":true,"line":{"color":"#0072BD","strokeWidth":0.8}},"encoding":{"x":{"field":"f","type":"quantitative","scale":{"domain":[0,0.5],"nice":false},"axis":{"orient":"top","labels":false,"grid":false,"title":"×10⁻³","titleAnchor":"start","titleAlign":"left","titleFont":"Liberation Serif","titleFontSize":11,"titlePadding":1}},"y":{"field":"a","type":"quantitative","scale":{"domain":[0,7.5],"nice":false},"axis":{"values":[0,5],"title":null,"labelFont":"Liberation Serif","labelExpr":"replace('' + datum.value, '.', '. ')","gridDash":[3,2],"gridColor":"#d0d0d0"}}}},
  {"width":196,"height":16,"data":{"name":"imf8"},"mark":{"type":"line","color":"#0072BD","strokeWidth":0.8,"clip":true,"interpolate":"monotone"},"encoding":{"x":{"field":"t","type":"quantitative","scale":{"domain":[0,15000],"nice":false},"axis":null},"y":{"field":"v","type":"quantitative","scale":{"domain":[-0.075,0.075],"nice":false,"zero":false},"axis":{"values":[-0.05,0,0.05],"title":"IMF8"}}}},
  {"width":197,"height":16,"data":{"name":"s8"},"mark":{"type":"area","color":"#0072BD","clip":true,"line":{"color":"#0072BD","strokeWidth":0.8}},"encoding":{"x":{"field":"f","type":"quantitative","scale":{"domain":[0,0.5],"nice":false},"axis":null},"y":{"field":"a","type":"quantitative","scale":{"domain":[0,0.012],"nice":false},"axis":{"values":[0,0.005,0.01],"title":null,"labelFont":"Liberation Serif","labelExpr":"replace('' + datum.value, '.', '. ')","gridDash":[3,2],"gridColor":"#d0d0d0"}}}},
  {"width":196,"height":16,"data":{"name":"imf9"},"mark":{"type":"line","color":"#0072BD","strokeWidth":0.8,"clip":true,"interpolate":"monotone"},"encoding":{"x":{"field":"t","type":"quantitative","scale":{"domain":[0,15000],"nice":false},"axis":null},"y":{"field":"v","type":"quantitative","scale":{"domain":[-0.03,0.03],"nice":false,"zero":false},"axis":{"values":[-0.02,0,0.02],"title":"IMF9"}}}},
  {"width":197,"height":16,"data":{"name":"s9"},"mark":{"type":"area","color":"#0072BD","clip":true,"line":{"color":"#0072BD","strokeWidth":0.8}},"encoding":{"x":{"field":"f","type":"quantitative","scale":{"domain":[0,0.5],"nice":false},"axis":null},"y":{"field":"a","type":"quantitative","scale":{"domain":[0,0.012],"nice":false},"axis":{"values":[0,0.005,0.01],"title":null,"labelFont":"Liberation Serif","labelExpr":"replace('' + datum.value, '.', '. ')","gridDash":[3,2],"gridColor":"#d0d0d0"}}}},
  {"width":196,"height":16,"data":{"name":"imf10"},"mark":{"type":"line","color":"#0072BD","strokeWidth":0.8,"clip":true,"interpolate":"monotone"},"encoding":{"x":{"field":"t","type":"quantitative","scale":{"domain":[0,15000],"nice":false},"axis":null},"y":{"field":"v","type":"quantitative","scale":{"domain":[-0.0223,0.0223],"nice":false,"zero":false},"axis":{"values":[-0.02,0,0.02],"title":"IMF10"}}}},
  {"width":197,"height":16,"data":{"name":"s10"},"mark":{"type":"area","color":"#0072BD","clip":true,"line":{"color":"#0072BD","strokeWidth":0.8}},"encoding":{"x":{"field":"f","type":"quantitative","scale":{"domain":[0,0.5],"nice":false},"axis":{"orient":"top","labels":false,"grid":false,"title":"×10⁻³","titleAnchor":"start","titleAlign":"left","titleFont":"Liberation Serif","titleFontSize":11,"titlePadding":1}},"y":{"field":"a","type":"quantitative","scale":{"domain":[0,8],"nice":false},"axis":{"values":[0,5],"title":null,"labelFont":"Liberation Serif","labelExpr":"replace('' + datum.value, '.', '. ')","gridDash":[3,2],"gridColor":"#d0d0d0"}}}},
  {"width":196,"height":16,"data":{"name":"imf11"},"mark":{"type":"line","color":"#0072BD","strokeWidth":0.8,"clip":true,"interpolate":"monotone"},"encoding":{"x":{"field":"t","type":"quantitative","scale":{"domain":[0,15000],"nice":false},"axis":{"orient":"top","labels":false,"grid":false,"title":"×10⁻³","titleAnchor":"start","titleAlign":"left","titleFont":"Liberation Sans","titleFontSize":11,"titlePadding":1}},"y":{"field":"v","type":"quantitative","scale":{"domain":[-6.5,6.5],"nice":false,"zero":false},"axis":{"values":[-5,0,5],"title":"IMF11"}}}},
  {"width":197,"height":16,"data":{"name":"s11"},"mark":{"type":"area","color":"#0072BD","clip":true,"line":{"color":"#0072BD","strokeWidth":0.8}},"encoding":{"x":{"field":"f","type":"quantitative","scale":{"domain":[0,0.5],"nice":false},"axis":{"orient":"top","labels":false,"grid":false,"title":"×10⁻³","titleAnchor":"start","titleAlign":"left","titleFont":"Liberation Serif","titleFontSize":11,"titlePadding":1}},"y":{"field":"a","type":"quantitative","scale":{"domain":[0,4.2],"nice":false},"axis":{"values":[0,2,4],"title":null,"labelFont":"Liberation Serif","labelExpr":"replace('' + datum.value, '.', '. ')","gridDash":[3,2],"gridColor":"#d0d0d0"}}}},
  {"width":196,"height":16,"data":{"name":"imf12"},"mark":{"type":"line","color":"#0072BD","strokeWidth":0.8,"clip":true,"interpolate":"monotone"},"encoding":{"x":{"field":"t","type":"quantitative","scale":{"domain":[0,15000],"nice":false},"axis":{"orient":"top","labels":false,"grid":false,"title":"×10⁻³","titleAnchor":"start","titleAlign":"left","titleFont":"Liberation Sans","titleFontSize":11,"titlePadding":1}},"y":{"field":"v","type":"quantitative","scale":{"domain":[-5.6,5.6],"nice":false,"zero":false},"axis":{"values":[-5,0,5],"title":"IMF12"}}}},
  {"width":197,"height":16,"data":{"name":"s12"},"mark":{"type":"area","color":"#0072BD","clip":true,"line":{"color":"#0072BD","strokeWidth":0.8}},"encoding":{"x":{"field":"f","type":"quantitative","scale":{"domain":[0,0.5],"nice":false},"axis":{"orient":"top","labels":false,"grid":false,"title":"×10⁻³","titleAnchor":"start","titleAlign":"left","titleFont":"Liberation Serif","titleFontSize":11,"titlePadding":1}},"y":{"field":"a","type":"quantitative","scale":{"domain":[0,4.2],"nice":false},"axis":{"values":[0,2,4],"title":null,"labelFont":"Liberation Serif","labelExpr":"replace('' + datum.value, '.', '. ')","gridDash":[3,2],"gridColor":"#d0d0d0"}}}},
  {"width":196,"height":16,"data":{"name":"res"},"mark":{"type":"line","color":"#0072BD","strokeWidth":0.8,"clip":true,"interpolate":"monotone"},"encoding":{"x":{"field":"t","type":"quantitative","scale":{"domain":[0,15000],"nice":false},"axis":{"values":[0,5000,10000,15000],"title":"时间/s","labelFont":"Liberation Sans","labelExpr":"'' + datum.value"}},"y":{"field":"v","type":"quantitative","scale":{"domain":[0.6164,0.6533],"nice":false,"zero":false},"axis":{"values":[0.62,0.64],"title":"res"}}}},
  {"width":197,"height":16,"data":{"name":"s13"},"mark":{"type":"area","color":"#0072BD","clip":true,"line":{"color":"#0072BD","strokeWidth":0.8}},"encoding":{"x":{"field":"f","type":"quantitative","scale":{"domain":[0,0.5],"nice":false},"axis":{"values":[0,0.1,0.2,0.3,0.4,0.5],"title":"频率/Hz","labelFont":"Liberation Serif","labelExpr":"replace('' + datum.value, '.', '. ')","gridDash":[3,2],"gridColor":"#d0d0d0"}},"y":{"field":"a","type":"quantitative","scale":{"domain":[0,1.05],"nice":false},"axis":{"values":[0,0.5,1],"title":null,"labelFont":"Liberation Serif","labelExpr":"replace('' + datum.value, '.', '. ')","gridDash":[3,2],"gridColor":"#d0d0d0"}}}}
]
}
